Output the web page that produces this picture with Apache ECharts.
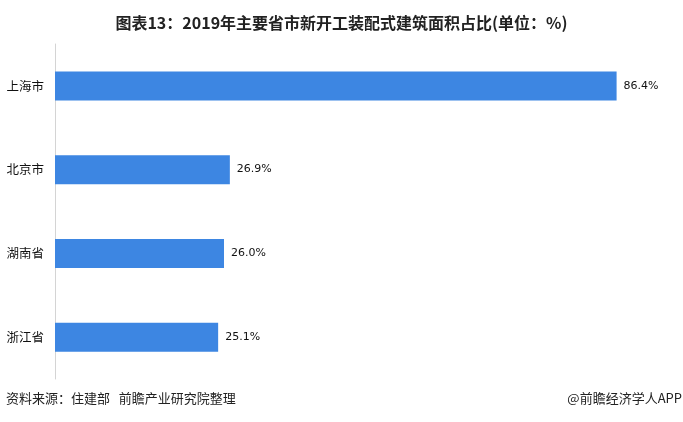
<!DOCTYPE html>
<html>
<head>
<meta charset="utf-8">
<script src="https://cdn.jsdelivr.net/npm/echarts@6/dist/echarts.min.js"></script>
<style>
  html, body { margin: 0; padding: 0; background: #fff; }
  #chart { width: 683px; height: 422px; }
</style>
</head>
<body>
<div id="chart"></div>
<script>
// 数据
const cities = ['上海市', '北京市', '湖南省', '浙江省'];
const shares = [86.4, 26.9, 26.0, 25.1];

const chart = echarts.init(document.getElementById('chart'));

const option = {
  backgroundColor: '#ffffff',
  animation: false,
  title: {
    text: '图表13：2019年主要省市新开工装配式建筑面积占比(单位：%)',
    left: 'center',
    top: 10,
    textStyle: {
      fontFamily: 'Noto Sans CJK SC',
      fontSize: 16,
      fontWeight: 'bold',
      color: '#222'
    }
  },
  grid: {
    left: 55,
    right: 43,
    top: 44,
    bottom: 43
  },
  xAxis: {
    type: 'value',
    min: 0,
    max: 90,
    show: false
  },
  yAxis: {
    type: 'category',
    data: cities,
    inverse: true,
    axisLine: { show: true, lineStyle: { color: '#d4d4d4', width: 1 } },
    axisTick: { show: false },
    axisLabel: {
      color: '#111',
      fontSize: 12.5,
      fontFamily: 'Noto Sans CJK SC',
      margin: 11
    }
  },
  series: [{
    type: 'bar',
    data: shares,
    barWidth: 29,
    itemStyle: { color: '#3d86e2' },
    label: {
      show: true,
      position: 'right',
      distance: 7,
      color: '#111',
      fontSize: 11,
      fontFamily: 'DejaVu Sans',
      formatter: p => p.value.toFixed(1) + '%'
    }
  }],
  graphic: [
    {
      type: 'text',
      left: 6,
      top: 392,
      style: {
        text: '资料来源：住建部   前瞻产业研究院整理',
        fontSize: 13,
        fontFamily: 'Noto Sans CJK SC',
        fill: '#222'
      }
    },
    {
      type: 'text',
      right: 1,
      top: 392,
      style: {
        text: '@前瞻经济学人APP',
        fontSize: 13,
        fontFamily: 'Noto Sans CJK SC',
        fill: '#222'
      }
    }
  ]
};

chart.setOption(option);
</script>
</body>
</html>
